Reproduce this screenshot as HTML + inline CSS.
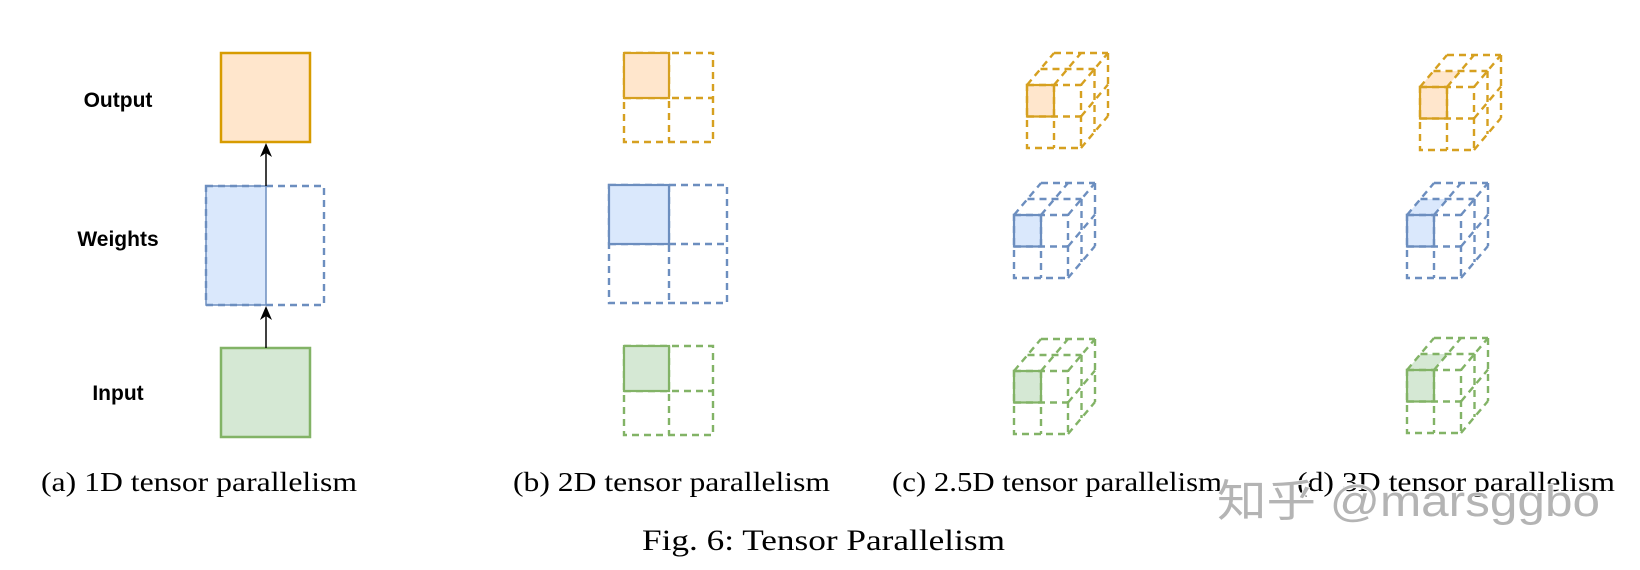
<!DOCTYPE html>
<html><head><meta charset="utf-8"><style>
html,body{margin:0;padding:0;background:#fff;}
svg{display:block;}
</style></head><body>
<svg width="1640" height="570" viewBox="0 0 1640 570" xmlns="http://www.w3.org/2000/svg">
<defs>
  <g id="cubeLines" fill="none" stroke-width="2.4" stroke-dasharray="7 5">
    <rect x="0" y="0" width="54" height="63"/>
    <line x1="27" y1="0" x2="27" y2="63"/>
    <line x1="0" y1="31.5" x2="54" y2="31.5"/>
    <line x1="13.5" y1="-16" x2="67.5" y2="-16"/>
    <line x1="27" y1="-32" x2="81" y2="-32"/>
    <line x1="67.5" y1="-16" x2="67.5" y2="47"/>
    <line x1="81" y1="-32" x2="81" y2="31"/>
    <line x1="0" y1="0" x2="27" y2="-32"/>
    <line x1="27" y1="0" x2="54" y2="-32"/>
    <line x1="54" y1="0" x2="81" y2="-32"/>
    <line x1="54" y1="31.5" x2="81" y2="-0.5"/>
    <line x1="54" y1="63" x2="81" y2="31"/>
  </g>
</defs>

<!-- 1D -->
<g font-family="Liberation Sans, Arial, sans-serif" font-weight="bold" font-size="21" text-anchor="middle" fill="#000">
  <text x="118" y="107">Output</text>
  <text x="118" y="246">Weights</text>
  <text x="118" y="400">Input</text>
</g>
<rect x="221" y="53" width="89" height="89" fill="#ffe6cc" stroke="#d79b00" stroke-width="2.5"/>
<rect x="206" y="186" width="60" height="119" fill="#dae8fc" stroke="#6c8ebf" stroke-width="1.5"/>
<rect x="206" y="186" width="118" height="119" fill="none" stroke="#6c8ebf" stroke-width="2.4" stroke-dasharray="7 5"/>
<rect x="221" y="348" width="89" height="89" fill="#d5e8d4" stroke="#82b366" stroke-width="2.5"/>
<line x1="266" y1="186" x2="266" y2="150" stroke="#000" stroke-width="1.5"/>
<polygon points="266,143 260,157 266,153 272,157" fill="#000"/>
<line x1="266" y1="348" x2="266" y2="313" stroke="#000" stroke-width="1.5"/>
<polygon points="266,306 260,320 266,316 272,320" fill="#000"/>

<!-- 2D -->
<g fill="none" stroke-width="2.4" stroke-dasharray="7 5">
  <g stroke="#d6a020">
    <rect x="624" y="53" width="89" height="89"/>
    <line x1="669" y1="53" x2="669" y2="142"/><line x1="624" y1="98" x2="713" y2="98"/>
  </g>
  <g stroke="#6c8ebf">
    <rect x="609" y="185" width="118" height="118"/>
    <line x1="669" y1="185" x2="669" y2="303"/><line x1="609" y1="244" x2="727" y2="244"/>
  </g>
  <g stroke="#82b366">
    <rect x="624" y="346" width="89" height="89"/>
    <line x1="669" y1="346" x2="669" y2="435"/><line x1="624" y1="391" x2="713" y2="391"/>
  </g>
</g>
<rect x="624" y="53" width="45" height="45" fill="#ffe6cc" stroke="#d6a020" stroke-width="2.2"/>
<rect x="609" y="185" width="60" height="59" fill="#dae8fc" stroke="#6c8ebf" stroke-width="2.2"/>
<rect x="624" y="346" width="45" height="45" fill="#d5e8d4" stroke="#82b366" stroke-width="2.2"/>

<!-- 2.5D -->
<g transform="translate(1027,85)"><rect width="27" height="31.5" fill="#ffe6cc" stroke="#d6a020" stroke-width="2.2"/><use href="#cubeLines" stroke="#d6a020"/></g>
<g transform="translate(1014,215)"><rect width="27" height="31.5" fill="#dae8fc" stroke="#6c8ebf" stroke-width="2.2"/><use href="#cubeLines" stroke="#6c8ebf"/></g>
<g transform="translate(1014,371)"><rect width="27" height="31.5" fill="#d5e8d4" stroke="#82b366" stroke-width="2.2"/><use href="#cubeLines" stroke="#82b366"/></g>

<!-- 3D -->
<g transform="translate(1420,87)"><polygon points="0,0 13.5,-16 40.5,-16 27,0" fill="#ffe6cc"/><rect width="27" height="31.5" fill="#ffe6cc" stroke="#d6a020" stroke-width="2.2"/><use href="#cubeLines" stroke="#d6a020"/></g>
<g transform="translate(1407,215)"><polygon points="0,0 13.5,-16 40.5,-16 27,0" fill="#dae8fc"/><rect width="27" height="31.5" fill="#dae8fc" stroke="#6c8ebf" stroke-width="2.2"/><use href="#cubeLines" stroke="#6c8ebf"/></g>
<g transform="translate(1407,370)"><polygon points="0,0 13.5,-16 40.5,-16 27,0" fill="#d5e8d4"/><rect width="27" height="31.5" fill="#d5e8d4" stroke="#82b366" stroke-width="2.2"/><use href="#cubeLines" stroke="#82b366"/></g>

<!-- captions -->
<g font-family="Liberation Serif, 'Times New Roman', serif" font-size="27" fill="#000">
  <text x="41" y="491" textLength="316" lengthAdjust="spacingAndGlyphs">(a) 1D tensor parallelism</text>
  <text x="513" y="491" textLength="317" lengthAdjust="spacingAndGlyphs">(b) 2D tensor parallelism</text>
  <text x="892" y="491" textLength="330" lengthAdjust="spacingAndGlyphs">(c) 2.5D tensor parallelism</text>
  <text x="1297" y="491" textLength="318" lengthAdjust="spacingAndGlyphs">(d) 3D tensor parallelism</text>
  <text x="642" y="550" font-size="30" textLength="363" lengthAdjust="spacingAndGlyphs">Fig. 6: Tensor Parallelism</text>
</g>
<!-- watermark -->
<text x="1217" y="516" font-family="Liberation Sans, 'Noto Sans CJK SC', sans-serif" font-size="44" fill="#b4b4b4" stroke="#ffffff" stroke-width="1.5" paint-order="stroke" textLength="383" lengthAdjust="spacingAndGlyphs">知乎 @marsggbo</text>
</svg>
</body></html>
